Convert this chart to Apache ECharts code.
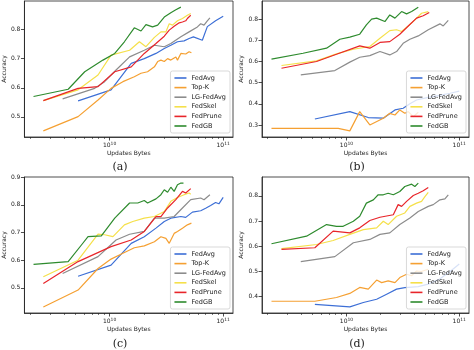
<!DOCTYPE html>
<html>
<head>
<meta charset="utf-8">
<script src="https://cdn.jsdelivr.net/npm/echarts@6/dist/echarts.min.js"></script>
<style>
  html, body { margin: 0; padding: 0; background: #fff; }
  #chart { width: 474px; height: 350px; }
</style>
</head>
<body>
<div id="chart"></div>
<script>
// methods and their colours
var methods = ["FedAvg", "Top-K", "LG-FedAvg", "FedSkel", "FedPrune", "FedGB"];
var colors = ["#3d6fd6", "#f5a032", "#8c8c8c", "#f5e04a", "#e8252a", "#2e8b2e"];

// x axis: updates bytes (log)
var xMajor = [1e10, 1e11];
var xMinor = [2e9, 3e9, 4e9, 5e9, 6e9, 7e9, 8e9, 9e9, 2e10, 3e10, 4e10, 5e10, 6e10, 7e10, 8e10, 9e10];

// y tick labels per panel
var aYTicks = [0.5, 0.6, 0.7, 0.8];
var bYTicks = [0.3, 0.4, 0.5, 0.6, 0.7, 0.8];
var cYTicks = [0.5, 0.6, 0.7, 0.8, 0.9];
var dYTicks = [0.4, 0.5, 0.6, 0.7, 0.8];

// (a) [bytes, accuracy]
var aFedAvg = [[5.28e9,0.555],[1.03e10,0.593],[1.55e10,0.684],[2.02e10,0.70],[2.56e10,0.718],[3.03e10,0.735],[3.46e10,0.746],[3.96e10,0.758],[4.53e10,0.761],[5.01e10,0.769],[5.47e10,0.775],[6.55e10,0.763],[7.25e10,0.81],[8.57e10,0.83],[1e11,0.846]];
var aTopK = [[2.61e9,0.452],[5.28e9,0.501],[7.91e9,0.558],[1.03e10,0.598],[1.31e10,0.621],[1.65e10,0.638],[1.89e10,0.65],[2.16e10,0.655],[2.48e10,0.672],[2.65e10,0.69],[2.83e10,0.695],[3.03e10,0.69],[3.24e10,0.70],[3.46e10,0.695],[3.83e10,0.706],[3.96e10,0.695],[4.24e10,0.718],[4.68e10,0.716],[5.01e10,0.724],[5.25e10,0.72]];
var aLGFedAvg = [[3.86e9,0.562],[7.39e9,0.598],[9.04e9,0.621],[1.14e10,0.661],[1.5e10,0.706],[2.02e10,0.729],[2.48e10,0.746],[3.03e10,0.741],[3.46e10,0.752],[4.24e10,0.775],[5.01e10,0.792],[5.93e10,0.809],[6.34e10,0.82],[6.78e10,0.815],[7.25e10,0.83],[7.64e10,0.84]];
var aFedSkel = [[2.61e9,0.556],[5.28e9,0.593],[7.91e9,0.644],[1.03e10,0.712],[1.5e10,0.729],[1.83e10,0.758],[2.09e10,0.741],[2.48e10,0.773],[2.83e10,0.792],[3.13e10,0.792],[3.35e10,0.82],[3.58e10,0.815],[3.96e10,0.83],[4.38e10,0.838],[4.84e10,0.849],[5.18e10,0.855]];
var aFedPrune = [[2.61e9,0.556],[5.28e9,0.598],[7.91e9,0.604],[1.11e10,0.655],[1.55e10,0.672],[2.02e10,0.718],[2.56e10,0.752],[3.03e10,0.777],[3.35e10,0.798],[3.7e10,0.811],[4.1e10,0.823],[4.38e10,0.826],[4.68e10,0.83],[4.84e10,0.838],[5.01e10,0.843],[5.18e10,0.849]];
var aFedGB = [[2.14e9,0.570],[4.32e9,0.595],[6.04e9,0.655],[8.74e9,0.695],[1.11e10,0.718],[1.35e10,0.758],[1.65e10,0.806],[1.89e10,0.795],[2.09e10,0.817],[2.39e10,0.809],[2.65e10,0.815],[3.03e10,0.843],[3.46e10,0.858],[3.83e10,0.868],[4.24e10,0.877]];

// (b)
var bFedAvg = [[5.24e9,0.328],[1.07e10,0.363],[1.56e10,0.335],[2.12e10,0.332],[2.69e10,0.371],[3.18e10,0.379],[3.65e10,0.40],[4.18e10,0.418],[5.3e10,0.43],[6.7e10,0.44],[8.3e10,0.45],[1e11,0.46]];
var bTopK = [[2.16e9,0.284],[8.44e9,0.284],[1.07e10,0.272],[1.31e10,0.363],[1.61e10,0.30],[2.12e10,0.332],[2.42e10,0.355],[2.69e10,0.347],[2.97e10,0.371],[3.29e10,0.355],[3.53e10,0.363],[3.91e10,0.339],[4.33e10,0.36]];
var bLGFedAvg = [[3.93e9,0.537],[7.88e9,0.557],[1.07e10,0.597],[1.31e10,0.62],[1.61e10,0.628],[1.98e10,0.647],[2.42e10,0.631],[2.78e10,0.647],[3.18e10,0.686],[3.65e10,0.705],[4.33e10,0.721],[5.31e10,0.75],[6.74e10,0.778],[7.21e10,0.768],[7.99e10,0.794]];
var bFedSkel = [[2.65e9,0.581],[5.42e9,0.603],[8.15e9,0.636],[1.15e10,0.658],[1.61e10,0.671],[1.98e10,0.71],[2.42e10,0.746],[2.78e10,0.75],[3.08e10,0.742],[3.53e10,0.768],[4.04e10,0.797],[4.63e10,0.828],[5.31e10,0.836]];
var bFedPrune = [[2.65e9,0.568],[5.42e9,0.60],[8.15e9,0.634],[1.31e10,0.674],[1.61e10,0.663],[1.98e10,0.69],[2.42e10,0.694],[2.97e10,0.729],[3.53e10,0.768],[4.18e10,0.805],[4.79e10,0.816],[5.42e10,0.832]];
var bFedGB = [[2.16e9,0.611],[4.12e9,0.639],[6.65e9,0.663],[8.73e9,0.705],[1.07e10,0.715],[1.31e10,0.729],[1.5e10,0.773],[1.67e10,0.80],[1.85e10,0.805],[2.19e10,0.789],[2.42e10,0.82],[2.69e10,0.805],[3.08e10,0.836],[3.41e10,0.825],[3.78e10,0.836],[4.33e10,0.857]];

// (c)
var cFedAvg = [[5.28e9,0.542],[1.03e10,0.582],[1.55e10,0.661],[2.02e10,0.685],[2.56e10,0.716],[3.03e10,0.74],[3.46e10,0.752],[4.24e10,0.758],[4.68e10,0.755],[5.36e10,0.774],[6.34e10,0.779],[7.01e10,0.788],[7.75e10,0.798],[8.57e10,0.809],[9.17e10,0.804],[1e11,0.827]];
var cTopK = [[2.61e9,0.431],[5.28e9,0.492],[7.91e9,0.570],[1.03e10,0.604],[1.31e10,0.625],[1.65e10,0.645],[2.02e10,0.652],[2.48e10,0.667],[2.83e10,0.685],[3.13e10,0.679],[3.35e10,0.661],[3.7e10,0.697],[3.96e10,0.704],[4.38e10,0.716],[4.84e10,0.728],[5.25e10,0.734]];
var cLGFedAvg = [[3.86e9,0.552],[7.91e9,0.613],[1.14e10,0.673],[1.5e10,0.694],[2.02e10,0.704],[2.48e10,0.752],[3.03e10,0.752],[3.7e10,0.758],[4.38e10,0.789],[5.18e10,0.819],[6.34e10,0.825],[6.78e10,0.819],[7.64e10,0.837]];
var cFedSkel = [[2.61e9,0.54],[5.28e9,0.60],[7.91e9,0.694],[9.04e9,0.692],[1.07e10,0.685],[1.35e10,0.728],[1.6e10,0.74],[2.02e10,0.752],[2.48e10,0.758],[3.03e10,0.776],[3.46e10,0.813],[3.96e10,0.827],[4.53e10,0.837],[5.01e10,0.843],[5.18e10,0.839]];
var cFedPrune = [[2.61e9,0.516],[5.28e9,0.595],[1.03e10,0.649],[1.55e10,0.673],[2.02e10,0.704],[2.56e10,0.758],[2.83e10,0.758],[3.24e10,0.789],[3.83e10,0.819],[4.38e10,0.849],[4.68e10,0.843],[5.18e10,0.859]];
var cFedGB = [[2.14e9,0.585],[4.32e9,0.595],[5.65e9,0.655],[6.46e9,0.685],[8.46e9,0.688],[1.11e10,0.752],[1.5e10,0.807],[1.77e10,0.807],[2.02e10,0.816],[2.16e10,0.807],[2.56e10,0.822],[2.83e10,0.837],[3.03e10,0.855],[3.24e10,0.846],[3.46e10,0.864],[3.7e10,0.849],[3.96e10,0.873],[4.24e10,0.879],[4.47e10,0.879]];

// (d)
var dFedAvg = [[5.24e9,0.37],[1.07e10,0.36],[1.41e10,0.377],[1.85e10,0.39],[2.27e10,0.41],[2.78e10,0.43],[3.29e10,0.436],[4.33e10,0.44],[5.3e10,0.45],[6.7e10,0.47],[8.3e10,0.5],[1e11,0.53]];
var dTopK = [[2.16e9,0.382],[5.24e9,0.382],[8.15e9,0.397],[1.07e10,0.413],[1.31e10,0.437],[1.56e10,0.43],[1.85e10,0.466],[2.05e10,0.456],[2.34e10,0.463],[2.69e10,0.456],[2.97e10,0.476],[3.41e10,0.489],[3.78e10,0.483],[4.18e10,0.502],[4.6e10,0.50],[5.3e10,0.509]];
var dLGFedAvg = [[3.93e9,0.539],[7.88e9,0.559],[1.15e10,0.614],[1.61e10,0.627],[1.98e10,0.647],[2.42e10,0.653],[2.97e10,0.686],[3.65e10,0.712],[4.33e10,0.738],[5.31e10,0.758],[5.88e10,0.765],[6.74e10,0.784],[7.46e10,0.788],[7.99e10,0.804]];
var dFedSkel = [[2.65e9,0.591],[5.42e9,0.607],[7.61e9,0.623],[1.07e10,0.647],[1.41e10,0.666],[1.85e10,0.673],[2.12e10,0.699],[2.34e10,0.686],[2.78e10,0.719],[3.29e10,0.732],[3.65e10,0.758],[4.18e10,0.771],[4.63e10,0.778],[4.96e10,0.797],[5.31e10,0.814]];
var dFedPrune = [[2.65e9,0.588],[5.24e9,0.594],[7.61e9,0.66],[1.07e10,0.653],[1.31e10,0.673],[1.61e10,0.702],[1.98e10,0.715],[2.6e10,0.725],[2.87e10,0.765],[3.08e10,0.758],[3.41e10,0.778],[3.91e10,0.801],[4.33e10,0.81],[4.79e10,0.82],[5.31e10,0.833]];
var dFedGB = [[2.16e9,0.61],[4.42e9,0.64],[6.65e9,0.686],[8.15e9,0.679],[9.34e9,0.679],[1.15e10,0.699],[1.31e10,0.719],[1.5e10,0.771],[1.73e10,0.784],[1.91e10,0.804],[2.12e10,0.804],[2.34e10,0.81],[2.6e10,0.804],[2.97e10,0.817],[3.29e10,0.837],[3.78e10,0.846],[4.04e10,0.837],[4.33e10,0.85]];

document.addEventListener("DOMContentLoaded", function () {
    var chart = echarts.init(document.getElementById("chart"), null, { renderer: "canvas" });
    var ink = "#222";
    var font = "DejaVu Sans";

    var panels = [
        { grid: { left: 22, right: 241, top: 1, bottom: 213 }, y: [0.431, 0.898], ticks: aYTicks,
          series: [aFedAvg, aTopK, aLGFedAvg, aFedSkel, aFedPrune, aFedGB],
          legend: { right: 244, bottom: 217 }, caption: "(a)", cap: [120, 167] },
        { grid: { left: 262, right: 5, top: 1, bottom: 213 }, y: [0.243, 0.886], ticks: bYTicks,
          series: [bFedAvg, bTopK, bLGFedAvg, bFedSkel, bFedPrune, bFedGB],
          legend: { right: 8, bottom: 217 }, caption: "(b)", cap: [357, 167] },
        { grid: { left: 22, right: 241, top: 177, bottom: 37 }, y: [0.409, 0.901], ticks: cYTicks,
          series: [cFedAvg, cTopK, cLGFedAvg, cFedSkel, cFedPrune, cFedGB],
          legend: { right: 244, bottom: 41 }, caption: "(c)", cap: [120, 344] },
        { grid: { left: 262, right: 5, top: 177, bottom: 37 }, y: [0.3355, 0.8745], ticks: dYTicks,
          series: [dFedAvg, dTopK, dLGFedAvg, dFedSkel, dFedPrune, dFedGB],
          legend: { right: 8, bottom: 41 }, caption: "(d)", cap: [357, 344] }
    ];

    var option = {
        animation: false,
        backgroundColor: "#fff",
        grid: [], xAxis: [], yAxis: [], legend: [], series: [], graphic: []
    };

    panels.forEach(function (p, i) {
        option.grid.push(Object.assign({ show: true, borderColor: ink, borderWidth: 0.8 }, p.grid));
        // main log axis with decade labels
        option.xAxis.push({
            type: "log", logBase: 10, gridIndex: i, position: "bottom",
            min: 1.78e9, max: 1.22e11,
            name: "Updates Bytes", nameLocation: "middle", nameGap: 13,
            nameTextStyle: { fontFamily: font, fontSize: 6, color: ink },
            axisLine: { show: true, lineStyle: { color: ink, width: 0.8 } },
            axisTick: { customValues: xMajor, length: 3.5, lineStyle: { color: ink, width: 0.8 } },
            axisLabel: {
                customValues: xMajor, margin: 4, color: ink, fontFamily: font, fontSize: 6,
                formatter: function (v) { return "10{s|" + Math.round(Math.log10(v)) + "}"; },
                rich: { s: { fontSize: 4.5, fontFamily: font, color: ink, verticalAlign: "top", padding: [0, 0, 3, 0] } }
            },
            splitLine: { show: false }
        });
        // minor ticks
        option.xAxis.push({
            type: "log", logBase: 10, gridIndex: i, position: "bottom",
            min: 1.78e9, max: 1.22e11,
            axisLine: { show: false },
            axisTick: { customValues: xMinor, length: 2, lineStyle: { color: ink, width: 0.6 } },
            axisLabel: { show: false },
            splitLine: { show: false }
        });
        option.yAxis.push({
            type: "value", gridIndex: i, min: p.y[0], max: p.y[1],
            name: "Accuracy", nameLocation: "middle", nameGap: 15,
            nameTextStyle: { fontFamily: font, fontSize: 6, color: ink },
            axisLine: { show: true, lineStyle: { color: ink, width: 0.8 } },
            axisTick: { customValues: p.ticks, length: 3.5, lineStyle: { color: ink, width: 0.8 } },
            axisLabel: {
                customValues: p.ticks, margin: 4, color: ink, fontFamily: font, fontSize: 6,
                formatter: function (v) { return v.toFixed(1); }
            },
            splitLine: { show: false }
        });
        option.legend.push(Object.assign({
            orient: "vertical", data: methods,
            icon: "rect", itemWidth: 12, itemHeight: 1.6, itemGap: 1.6,
            padding: [3, 4, 3, 4],
            backgroundColor: "rgba(255,255,255,0.8)", borderColor: "#cfcfcf", borderWidth: 0.8, borderRadius: 2,
            textStyle: { fontFamily: font, fontSize: 6.5, color: ink, lineHeight: 8 },
            z: 10
        }, p.legend));
        p.series.forEach(function (data, k) {
            option.series.push({
                name: methods[k], type: "line", data: data,
                xAxisIndex: 2 * i, yAxisIndex: i,
                showSymbol: false, symbol: "none",
                color: colors[k],
                lineStyle: { width: 1.2, color: colors[k] },
                z: 2 + k
            });
        });
        option.graphic.push({
            type: "text", x: p.cap[0], y: p.cap[1],
            style: { text: p.caption, font: "11px 'DejaVu Serif'", fill: ink, textAlign: "center", textVerticalAlign: "middle" }
        });
    });

    chart.setOption(option);
    window.addEventListener("resize", function () { chart.resize(); });
});
</script>
</body>
</html>
